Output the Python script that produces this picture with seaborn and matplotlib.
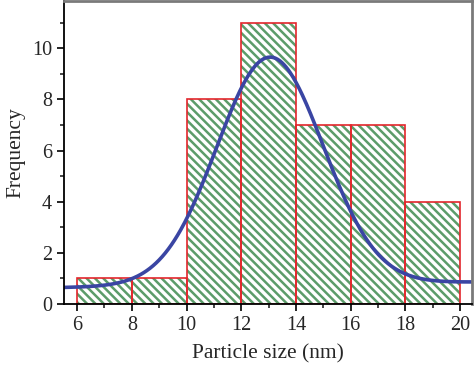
# particle size histogram with gaussian fit
import numpy as np
import matplotlib
matplotlib.use('Agg')
import matplotlib.pyplot as plt
import seaborn as sns
from matplotlib.ticker import MultipleLocator

# bins and counts
bin_edges = [6, 8, 10, 12, 14, 16, 18, 20]
bin_centers = [7, 9, 11, 13, 15, 17, 19]
counts = [1, 1, 8, 11, 7, 7, 4]

# gaussian fit parameters (baseline at 6 and 20, amplitude, centre, sigma)
base_left = 0.65
base_right = 0.85
amp = 8.9
xc = 13.05
sigma = 1.95

sns.set_style('ticks')
plt.rcParams['font.family'] = ['Liberation Serif', 'DejaVu Serif']
plt.rcParams['hatch.linewidth'] = 1.8
plt.rcParams['hatch.color'] = '#5c9c6a'

fig = plt.figure(figsize=(4.74, 3.73), dpi=100)
ax = fig.add_axes([0.135, 0.185, 0.861, 0.812])

# hatched fill
sns.histplot(x=bin_centers, weights=counts, bins=bin_edges, ax=ax,
             color='white', linewidth=0, alpha=1)
for p in ax.patches:
    p.set_hatch('\\\\\\\\')
    p.set_facecolor('white')
    p.set_edgecolor('#5c9c6a')
    p.set_linewidth(0)

# red outlines on top
sns.histplot(x=bin_centers, weights=counts, bins=bin_edges, ax=ax,
             fill=False, element='bars', color='#e3262c', linewidth=1.2)

# fitted curve
xs = np.linspace(5.52, 20.44, 400)
baseline = base_left + (base_right - base_left) * (xs - 6) / 14
ys = baseline + amp * np.exp(-(xs - xc) ** 2 / (2 * sigma ** 2))
sns.lineplot(x=xs, y=ys, ax=ax, color='#3a45a3', linewidth=2.6)

ax.set_xlim(5.52, 20.44)
ax.set_ylim(0, 11.84)
ax.xaxis.set_major_locator(MultipleLocator(2))
ax.xaxis.set_minor_locator(MultipleLocator(1))
ax.yaxis.set_major_locator(MultipleLocator(2))
ax.yaxis.set_minor_locator(MultipleLocator(1))
ax.tick_params(which='major', direction='out', length=5, width=1.2,
               labelsize=14.5, color='black', top=False, right=False)
ax.tick_params(which='minor', direction='out', length=3, width=1.2,
               top=False, right=False)

for side in ['left', 'bottom']:
    ax.spines[side].set_color('black')
    ax.spines[side].set_linewidth(1.3)
for side in ['top', 'right']:
    ax.spines[side].set_visible(True)
    ax.spines[side].set_color('#7a7a7a')
    ax.spines[side].set_linewidth(2)

ax.set_xlabel('Particle size (nm)', fontsize=15.5, labelpad=7)
ax.set_ylabel('Frequency', fontsize=15.5, labelpad=5)

plt.savefig('out.png', dpi=100)
